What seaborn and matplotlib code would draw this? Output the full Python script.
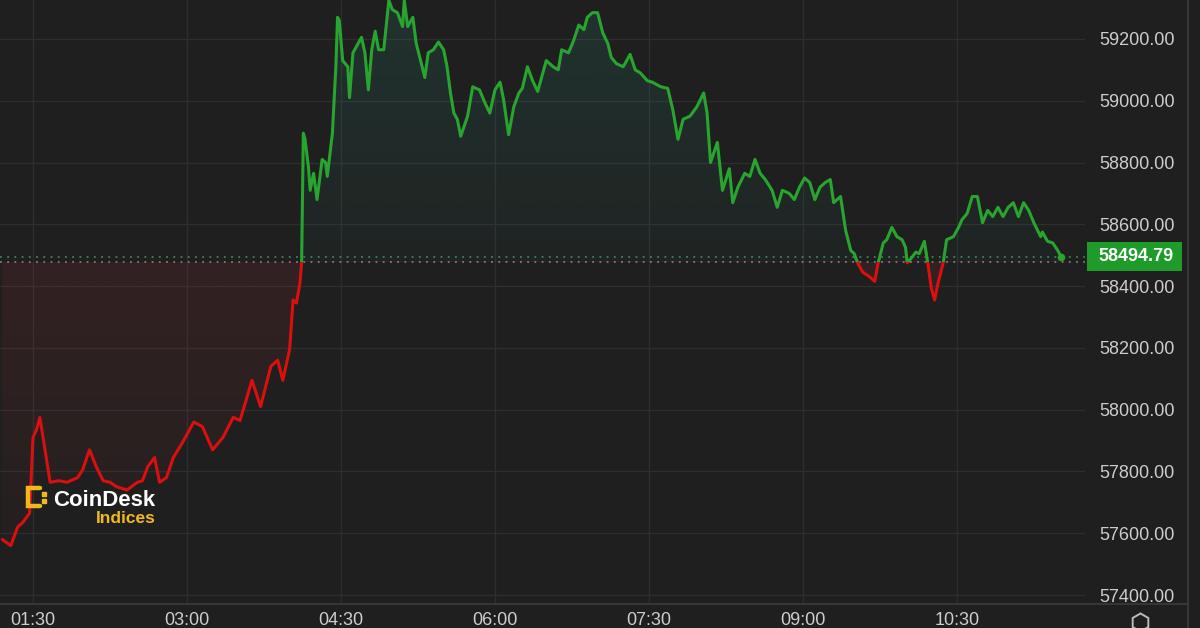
import numpy as np
import pandas as pd
import matplotlib
matplotlib.use("Agg")
import matplotlib.pyplot as plt
import matplotlib.dates as mdates
import matplotlib.transforms as mtransforms
from matplotlib.patches import Rectangle
from matplotlib.lines import Line2D
from matplotlib.ticker import StrMethodFormatter
import seaborn as sns

# ---------------- data ----------------
times = [
    "01:12", "01:17", "01:21", "01:24", "01:28", "01:30", "01:32", "01:34", "01:37", "01:40",
    "01:45", "01:50", "01:56", "01:59", "02:03", "02:07", "02:11", "02:15", "02:19", "02:25",
    "02:31", "02:34", "02:37", "02:41", "02:44", "02:48", "02:52", "02:57", "03:04", "03:09",
    "03:15", "03:21", "03:27", "03:31", "03:38", "03:43", "03:49", "03:53", "03:56", "04:00",
    "04:02", "04:04", "04:06", "04:07", "04:08", "04:09", "04:11", "04:12", "04:14", "04:16",
    "04:19", "04:21", "04:22", "04:25", "04:27", "04:28", "04:29", "04:31", "04:34", "04:35",
    "04:37", "04:39", "04:42", "04:44", "04:46", "04:48", "04:50", "04:52", "04:55", "04:57",
    "04:58", "05:00", "05:03", "05:06", "05:07", "05:09", "05:12", "05:14", "05:17", "05:19",
    "05:21", "05:24", "05:27", "05:30", "05:32", "05:34", "05:36", "05:38", "05:40", "05:44",
    "05:47", "05:51", "05:54", "05:57", "06:00", "06:03", "06:05", "06:08", "06:11", "06:14",
    "06:16", "06:19", "06:22", "06:25", "06:28", "06:30", "06:34", "06:37", "06:39", "06:43",
    "06:46", "06:49", "06:52", "06:54", "06:57", "07:00", "07:03", "07:06", "07:08", "07:11",
    "07:15", "07:19", "07:22", "07:25", "07:29", "07:32", "07:37", "07:41", "07:44", "07:47",
    "07:50", "07:54", "07:58", "08:02", "08:04", "08:06", "08:10", "08:13", "08:17", "08:19",
    "08:22", "08:26", "08:29", "08:32", "08:35", "08:38", "08:42", "08:45", "08:48", "08:52",
    "08:55", "08:58", "09:01", "09:04", "09:07", "09:10", "09:13", "09:16", "09:18", "09:22",
    "09:25", "09:28", "09:30", "09:32", "09:35", "09:39", "09:42", "09:44", "09:47", "09:49",
    "09:52", "09:55", "09:58", "10:00", "10:01", "10:04", "10:06", "10:08", "10:11", "10:13",
    "10:15", "10:17", "10:19", "10:22", "10:24", "10:28", "10:31", "10:33", "10:36", "10:39",
    "10:42", "10:45", "10:48", "10:51", "10:54", "10:57", "11:00", "11:03", "11:06", "11:09",
    "11:12", "11:15", "11:19", "11:20", "11:23", "11:26", "11:29", "11:31",
]
prices = [
    57580, 57560, 57620, 57635, 57665, 57910, 57935, 57975, 57870, 57765,
    57770, 57765, 57780, 57805, 57870, 57815, 57770, 57765, 57750, 57740,
    57765, 57770, 57815, 57845, 57765, 57780, 57845, 57890, 57960, 57945,
    57870, 57910, 57975, 57965, 58095, 58010, 58140, 58160, 58095, 58195,
    58355, 58345, 58410, 58475, 58895, 58875, 58785, 58710, 58765, 58680,
    58810, 58800, 58755, 58895, 59110, 59270, 59260, 59130, 59110, 59010,
    59155, 59175, 59205, 59155, 59035, 59165, 59225, 59165, 59165, 59270,
    59325, 59295, 59285, 59240, 59325, 59240, 59270, 59185, 59120, 59075,
    59155, 59165, 59190, 59165, 59110, 59025, 58960, 58940, 58885, 58950,
    59045, 59035, 58995, 58960, 59035, 59060, 59005, 58890, 58980, 59025,
    59040, 59110, 59065, 59030, 59090, 59130, 59110, 59100, 59165, 59155,
    59195, 59245, 59230, 59270, 59285, 59285, 59220, 59185, 59140, 59120,
    59110, 59150, 59100, 59090, 59065, 59060, 59045, 59040, 58970, 58875,
    58940, 58950, 58980, 59025, 58960, 58800, 58865, 58710, 58780, 58670,
    58720, 58765, 58755, 58810, 58765, 58745, 58710, 58655, 58710, 58700,
    58680, 58720, 58750, 58735, 58680, 58720, 58735, 58745, 58670, 58690,
    58580, 58515, 58505, 58475, 58445, 58430, 58415, 58475, 58540, 58550,
    58590, 58560, 58550, 58525, 58475, 58495, 58510, 58505, 58545, 58475,
    58395, 58355, 58410, 58475, 58550, 58560, 58590, 58615, 58635, 58690,
    58690, 58605, 58645, 58625, 58655, 58625, 58655, 58670, 58625, 58670,
    58645, 58605, 58560, 58575, 58545, 58540, 58515, 58494.79,
]
open_price = 58478.0          # baseline (reference price)
last_price = 58494.79         # current price shown in the tag
y_ticks = [57400, 57600, 57800, 58000, 58200, 58400, 58600, 58800, 59000, 59200]
x_tick_labels = ["01:30", "03:00", "04:30", "06:00", "07:30", "09:00", "10:30"]
x_range = ["01:10:42", "11:44:54"]
y_range = [57371, 59326]
day = "2024-03-12 "

# ---------------- styling ----------------
BG = "#1f1f1f"
GRID = "#2e2e2e"
BORDER = "#3b3b3b"
TXT = "#cdcdcd"
GREEN = "#27a52e"
RED = "#dc0f0f"
TAG = "#1f9b29"
YELLOW = "#f0b820"

sns.set_theme(style="dark")
plt.rcParams["font.family"] = ["Liberation Sans", "DejaVu Sans"]

df = pd.DataFrame({"time": pd.to_datetime([day + t for t in times]), "price": prices})
xlim = pd.to_datetime([day + t for t in x_range])
x0, x1 = mdates.date2num(xlim[0]), mdates.date2num(xlim[1])

W, H = 1200, 628
fig = plt.figure(figsize=(W / 100, H / 100), dpi=100, facecolor=BG)
ax = fig.add_axes([0, (H - 604) / H, 1085 / W, 604 / H])
ax.set_facecolor(BG)

# gradient fills between price and baseline
fill = ax.fill_between(df["time"], df["price"], open_price, color="none", lw=0)
fpath = fill.get_paths()[0]
n = 256
g = np.zeros((n, 1, 4))
g[:, 0, :3] = matplotlib.colors.to_rgb("#2f9c86")
g[:, 0, 3] = np.linspace(0.04, 0.16, n)
im_g = ax.imshow(g, extent=[x0, x1, open_price, y_range[1]], origin="lower",
                 aspect="auto", interpolation="bilinear", zorder=1)
im_g.set_clip_path(fpath, ax.transData)
r = np.zeros((n, 1, 4))
r[:, 0, :3] = matplotlib.colors.to_rgb("#b83038")
r[:, 0, 3] = np.linspace(0.02, 0.13, n)
im_r = ax.imshow(r, extent=[x0, x1, y_range[0], open_price], origin="lower",
                 aspect="auto", interpolation="bilinear", zorder=1)
im_r.set_clip_path(fpath, ax.transData)

# price line: green above baseline, red below
sns.lineplot(data=df, x="time", y="price", color=GREEN, lw=2.2, estimator=None, ax=ax, zorder=3)
ln_g = ax.lines[-1]
sns.lineplot(data=df, x="time", y="price", color=RED, lw=2.2, estimator=None, ax=ax, zorder=3)
ln_r = ax.lines[-1]
clip_up = Rectangle((x0, open_price), x1 - x0, 1e5, transform=ax.transData)
clip_dn = Rectangle((x0, open_price - 1e5), x1 - x0, 1e5, transform=ax.transData)
ln_g.set_clip_path(clip_up)
ln_r.set_clip_path(clip_dn)

# dotted reference lines
ax.axhline(open_price, color="#b8b8b8", lw=1.3, ls=(0, (1, 3)), alpha=0.6, zorder=2)
ax.axhline(last_price, color="#4fae66", lw=1.3, ls=(0, (1, 3)), alpha=0.7, zorder=2)
ax.scatter([df["time"].iloc[-1]], [last_price], s=30, color=GREEN, zorder=4, lw=0)

ax.set_xlim(xlim[0], xlim[1])
ax.set_ylim(*y_range)
ax.set_xlabel("")
ax.set_ylabel("")

# ticks and grid
ax.set_xticks(pd.to_datetime([day + t for t in x_tick_labels]))
ax.xaxis.set_major_formatter(mdates.DateFormatter("%H:%M"))
ax.set_yticks(y_ticks)
ax.yaxis.set_major_formatter(StrMethodFormatter("{x:.2f}"))
ax.yaxis.tick_right()
ax.tick_params(axis="y", length=0, pad=10, labelsize=13, labelcolor=TXT)
ax.tick_params(axis="x", length=0, pad=6, labelsize=13, labelcolor=TXT)
ax.grid(True, color=GRID, lw=1.0)
ax.set_axisbelow(True)
for s in ax.spines.values():
    s.set_visible(False)

# frame lines of the chart widget
fig.add_artist(Line2D([0, 1188 / W], [(H - 604) / H] * 2, color=BORDER, lw=1.2,
                      transform=fig.transFigure))
fig.add_artist(Line2D([1188 / W] * 2, [0, 1], color=BORDER, lw=1.2,
                      transform=fig.transFigure))

# last price tag
bt = mtransforms.blended_transform_factory(fig.transFigure, ax.transData)
tag_h = 29 * (y_range[1] - y_range[0]) / 604
ax.add_patch(Rectangle((1087 / W, last_price - tag_h / 2), 95 / W, tag_h, transform=bt,
                       facecolor=TAG, edgecolor="none", clip_on=False, zorder=6))
ax.text(1098 / W, last_price, f"{last_price:.2f}", transform=bt, color="white",
        fontsize=13, fontweight="bold", va="center", ha="left", zorder=7, clip_on=False)

# settings icon
fig.add_artist(Line2D([1140 / W], [1 - 622 / H], marker="h", ms=13, mfc="none",
                      mec="#bbbbbb", mew=1.4, transform=fig.transFigure))

# CoinDesk Indices logo
fig.add_artist(Line2D([40 / W, 28 / W, 28 / W, 40 / W],
                      [1 - 488 / H, 1 - 488 / H, 1 - 506 / H, 1 - 506 / H],
                      color=YELLOW, lw=3.2, transform=fig.transFigure, solid_joinstyle="miter"))
fig.add_artist(Line2D([44 / W, 44 / W], [1 - 494 / H, 1 - 501 / H], color=YELLOW, lw=0,
                      marker="s", ms=2.2, transform=fig.transFigure))
fig.text(53 / W, 1 - 506 / H, "CoinDesk", color="white", fontsize=16, fontweight="bold",
         va="baseline", ha="left")
fig.text(156 / W, 1 - 523 / H, "Indices", color=YELLOW, fontsize=12.5, fontweight="bold",
         va="baseline", ha="right")

fig.savefig("out.png", dpi=100, facecolor=BG)
